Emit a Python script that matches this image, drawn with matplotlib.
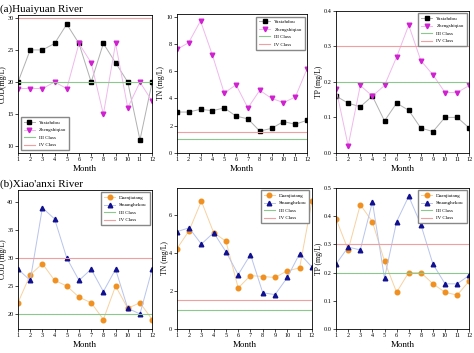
import matplotlib
matplotlib.use("Agg")
import matplotlib.pyplot as plt
import numpy as np

plt.rcParams['font.family'] = ['Liberation Serif', 'DejaVu Serif']

months = list(range(1, 13))

# (a) Huaiyuan River
cod_a1 = [20, 25, 25, 26, 29, 26, 20, 26, 23, 20, 11, 20]
cod_a2 = [19, 19, 19, 20, 19, 26, 23, 15, 26, 16, 20, 17]
tn_a1 = [3.0, 3.0, 3.2, 3.1, 3.3, 2.7, 2.5, 1.6, 1.8, 2.3, 2.1, 2.4]
tn_a2 = [7.6, 8.1, 9.7, 7.2, 4.4, 5.0, 3.3, 4.6, 4.0, 3.7, 4.1, 6.2]
tp_a1 = [0.16, 0.14, 0.13, 0.16, 0.09, 0.14, 0.12, 0.07, 0.06, 0.10, 0.10, 0.07]
tp_a2 = [0.18, 0.02, 0.19, 0.16, 0.19, 0.27, 0.36, 0.26, 0.22, 0.17, 0.17, 0.19]

# (b) Xiao'anxi River
cod_b1 = [22, 27, 29, 26, 25, 23, 22, 19, 25, 21, 22, 19]
cod_b2 = [28, 26, 39, 37, 30, 26, 28, 24, 28, 21, 20, 28]
tn_b1 = [4.2, 5.15, 6.7, 5.05, 4.6, 2.15, 2.8, 2.75, 2.7, 3.05, 3.2, 6.7]
tn_b2 = [5.1, 5.3, 4.45, 5.05, 4.05, 2.85, 3.9, 1.9, 1.8, 2.7, 3.95, 3.25]
tp_b1 = [0.39, 0.28, 0.44, 0.38, 0.24, 0.13, 0.20, 0.20, 0.16, 0.13, 0.12, 0.17]
tp_b2 = [0.23, 0.29, 0.28, 0.45, 0.18, 0.38, 0.47, 0.37, 0.23, 0.16, 0.16, 0.19]

# class limits: COD, TN, TP
class3 = [20, 1.0, 0.2]
class4 = [30, 1.5, 0.3]

names_a = ["Yaxiahdou", "Zhengshiqiao"]
names_b = ["Duanjiatang", "Shuanghekou"]
ylabels = ["COD(mg/L)", "TN (mg/L)", "TP (mg/L)"]
ylabels_b = ["COD (mg/L)", "TN (mg/L)", "TP (mg/L)"]

fig = plt.figure(figsize=(4.74, 3.53), dpi=100)

boxes = [
    [0.038, 0.567, 0.283, 0.390],
    [0.373, 0.567, 0.275, 0.393],
    [0.709, 0.567, 0.281, 0.402],
    [0.038, 0.068, 0.283, 0.394],
    [0.373, 0.068, 0.285, 0.400],
    [0.709, 0.068, 0.281, 0.400],
]

panels = [
    (cod_a1, cod_a2, 0, (9, 30.4), [10, 15, 20, 25, 30], 'a', 'lower left'),
    (tn_a1, tn_a2, 1, (0, 10.2), [0, 2, 4, 6, 8, 10], 'a', 'upper right'),
    (tp_a1, tp_a2, 2, (0, 0.4), [0.0, 0.1, 0.2, 0.3, 0.4], 'a', 'upper right'),
    (cod_b1, cod_b2, 0, (17.3, 42.2), [20, 25, 30, 35, 40], 'b', 'upper right'),
    (tn_b1, tn_b2, 1, (0, 7.4), [0, 2, 4, 6], 'b', 'upper right'),
    (tp_b1, tp_b2, 2, (0, 0.5), [0.0, 0.1, 0.2, 0.3, 0.4, 0.5], 'b', 'upper right'),
]

for box, (s1, s2, k, ylim, yt, grp, loc) in zip(boxes, panels):
    ax = fig.add_axes(box)
    if grp == 'a':
        ax.plot(months, s1, color='#b0b0b0', lw=0.7, marker='s', ms=3.0,
                mfc='black', mec='black', label=names_a[0])
        ax.plot(months, s2, color='#f0b8ec', lw=0.7, marker='v', ms=3.3,
                mfc='#d020d0', mec='#d020d0', label=names_a[1])
    else:
        ax.plot(months, s1, color='#f7d2a0', lw=0.7, marker='o', ms=3.3,
                mfc='#f09020', mec='#f09020', label=names_b[0])
        ax.plot(months, s2, color='#b8c4ec', lw=0.7, marker='^', ms=3.3,
                mfc='#101090', mec='#101090', label=names_b[1])
    ax.axhline(class3[k], color='#8cc88c', lw=0.8, label='III Class')
    ax.axhline(class4[k], color='#f0a0a0', lw=0.8, label='IV Class')
    ax.set_xlim(1, 12)
    ax.set_ylim(*ylim)
    ax.set_xticks(months)
    ax.set_yticks(yt)
    if k == 2:
        ax.set_yticklabels(["%.1f" % v for v in yt])
    ax.tick_params(labelsize=4.5, length=2, width=0.5, pad=1.2)
    for sp in ax.spines.values():
        sp.set_linewidth(0.6)
    ax.set_xlabel("Month", fontsize=6.5, labelpad=2)
    ax.set_ylabel(ylabels[k] if grp == 'a' else ylabels_b[k], fontsize=5.5, labelpad=0.5)
    ax.legend(loc=loc, fontsize=3.6, frameon=True, fancybox=False,
              edgecolor='#888888', framealpha=1, handlelength=2.2,
              borderpad=0.6, labelspacing=0.6)

fig.text(0.0, 0.967, "(a)Huaiyuan River", fontsize=8)
fig.text(0.0, 0.472, "(b)Xiao'anxi River", fontsize=8)

fig.savefig("out.png", dpi=100)
